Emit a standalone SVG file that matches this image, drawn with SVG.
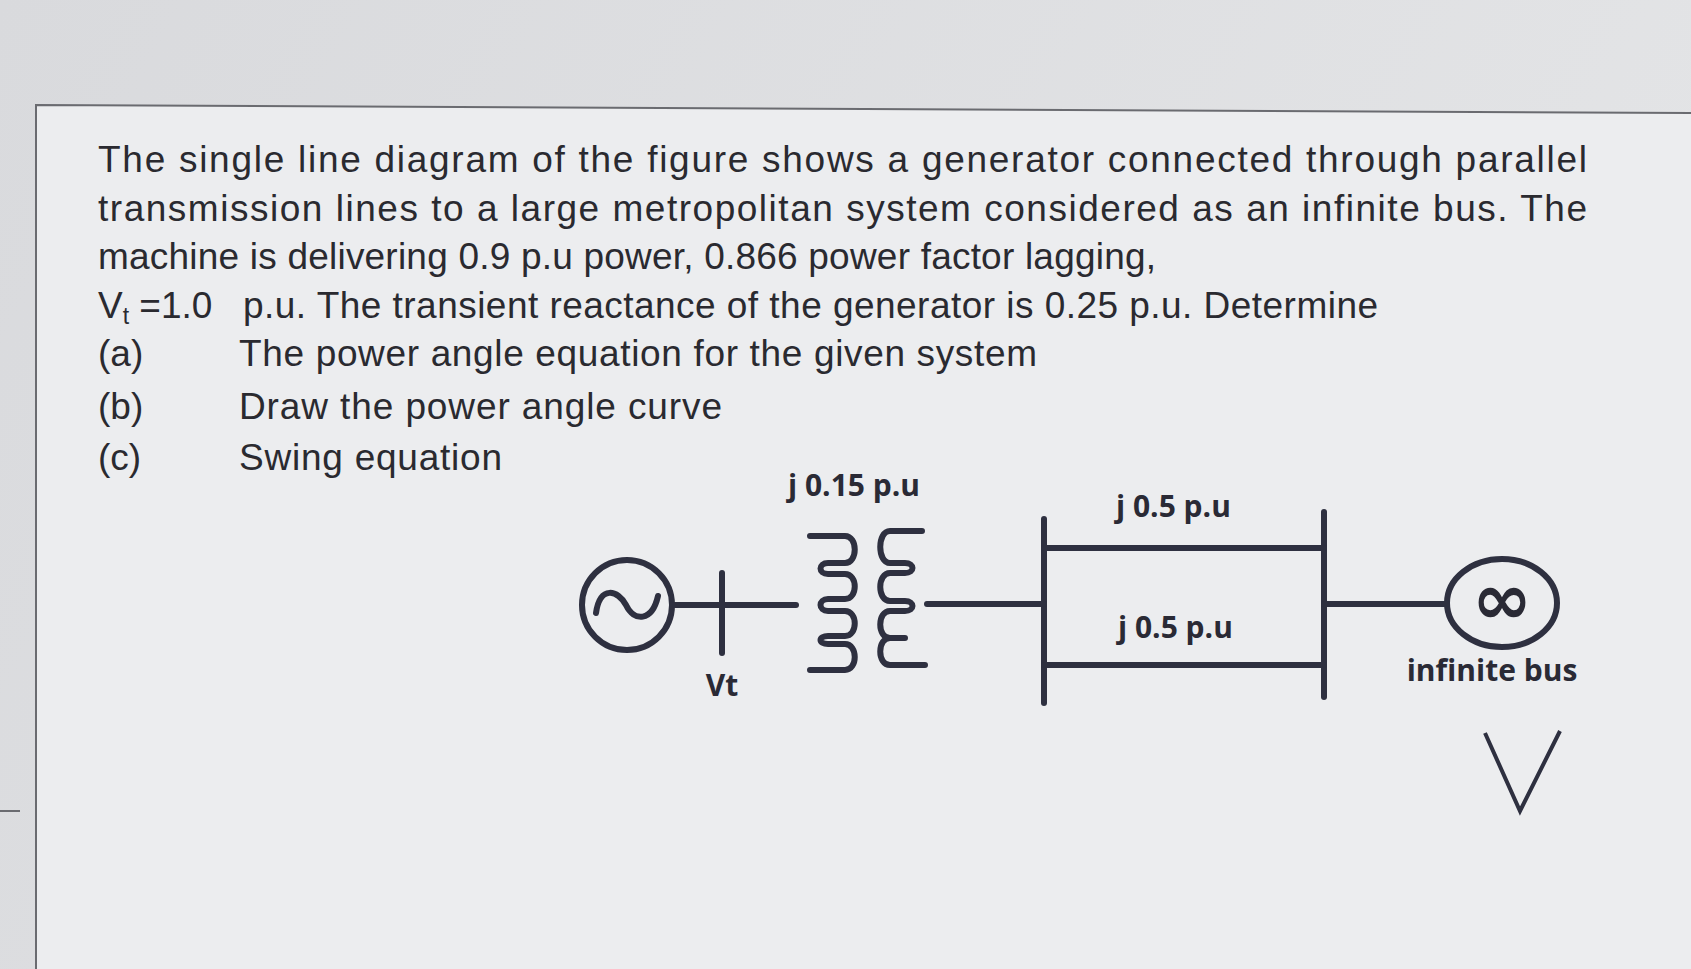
<svg xmlns="http://www.w3.org/2000/svg" width="1691" height="969" viewBox="0 0 1691 969">
<defs>
<linearGradient id="bg" x1="0" y1="0" x2="1" y2="0.3"><stop offset="0" stop-color="#d9dadd"/><stop offset="1" stop-color="#e3e4e6"/></linearGradient>
<style>
.t{font-family:"Liberation Sans",Arial,sans-serif;font-size:37px;fill:#2a2a30}
.l{font-family:"Open Sans","Liberation Sans",sans-serif;font-size:30px;font-weight:bold;fill:#2a2a35}
.s{stroke:#2e3040;stroke-width:6;fill:none;stroke-linecap:round}
</style>
</defs>
<rect width="1691" height="969" fill="url(#bg)"/>
<path d="M36 105 L1691 113 L1691 969 L36 969 Z" fill="#ecedef"/>
<path d="M36 969 L36 105 L1691 113" stroke="#6a6b70" stroke-width="2" fill="none"/>
<line x1="0" y1="811" x2="20" y2="811" stroke="#6a6b70" stroke-width="2"/>
<g id="text">
<text class="t" x="98" y="172" textLength="1489" lengthAdjust="spacing">The single line diagram of the figure shows a generator connected through parallel</text>
<text class="t" x="98" y="221" textLength="1489" lengthAdjust="spacing">transmission lines to a large metropolitan system considered as an infinite bus. The</text>
<text class="t" x="98" y="269" textLength="1058" lengthAdjust="spacing">machine is delivering 0.9 p.u power, 0.866 power factor lagging,</text>
<text class="t" x="98" y="318">V<tspan font-size="23" dy="6">t</tspan><tspan dy="-6"> =1.0</tspan></text>
<text class="t" x="243" y="318" textLength="1135" lengthAdjust="spacing">p.u. The transient reactance of the generator is 0.25 p.u.  Determine</text>
<text class="t" x="98" y="366">(a)</text><text class="t" x="239" y="366" textLength="798" lengthAdjust="spacing">The power angle equation for the  given system</text>
<text class="t" x="98" y="419">(b)</text><text class="t" x="239" y="419" textLength="483" lengthAdjust="spacing">Draw the power angle curve</text>
<text class="t" x="98" y="470">(c)</text><text class="t" x="239" y="470" textLength="263" lengthAdjust="spacing">Swing equation</text>
</g>
<g id="generator">
<circle class="s" cx="627" cy="605" r="45"/>
<path class="s" d="M596 613 C600 585 618 590 626 605 C634 622 652 622 658 596"/>
</g>
<g id="bus-vt">
<line class="s" x1="722" y1="573" x2="722" y2="653"/>
<text class="l" x="722" y="696" text-anchor="middle">Vt</text>
</g>
<g id="transformer">
<path class="s" d="M810 536 H845 C858 536 858 563 845 563 H828 C818 563 818 574 828 574 H845 C858 574 858 599 845 599 H828 C818 599 818 611 828 611 H845 C858 611 858 636 845 636 H828 C818 636 818 644 828 644 H845 C858 644 858 670 845 670 H810"/>
<path class="s" d="M922 531 H890 C877 531 877 563 890 563 H905 C915 563 915 573 905 573 H890 C877 573 877 601 890 601 H905 C915 601 915 611 905 611 H890 C877 611 877 638 890 638 H905 M890 638 C877 638 877 665 890 665 H925"/>
<text class="l" x="788" y="496">j 0.15  p.u</text>
</g>
<g id="bus1"><line class="s" x1="1044" y1="519" x2="1044" y2="703"/></g>
<g id="bus2"><line class="s" x1="1324" y1="512" x2="1324" y2="697"/></g>
<g id="infinite-bus">
<ellipse class="s" cx="1502" cy="603" rx="55" ry="44"/>
<text x="1502" y="624" text-anchor="middle" font-family="DejaVu Sans,sans-serif" font-size="72" font-weight="bold" fill="#2a2a35">∞</text>
<text class="l" x="1492" y="681" text-anchor="middle">infinite bus</text>
</g>
<g id="connectors">
<line class="s" x1="675" y1="605" x2="796" y2="605"/>
<line class="s" x1="927" y1="604" x2="1044" y2="604"/>
<line class="s" x1="1044" y1="548" x2="1324" y2="548"/>
<line class="s" x1="1044" y1="665" x2="1324" y2="665"/>
<line class="s" x1="1324" y1="604" x2="1447" y2="604"/>
</g>
<text class="l" x="1116" y="517">j 0.5 p.u</text>
<text class="l" x="1118" y="638">j 0.5 p.u</text>
<path d="M1485 733 L1520 811 L1560 731" stroke="#2e3040" stroke-width="4" fill="none"/>
</svg>
